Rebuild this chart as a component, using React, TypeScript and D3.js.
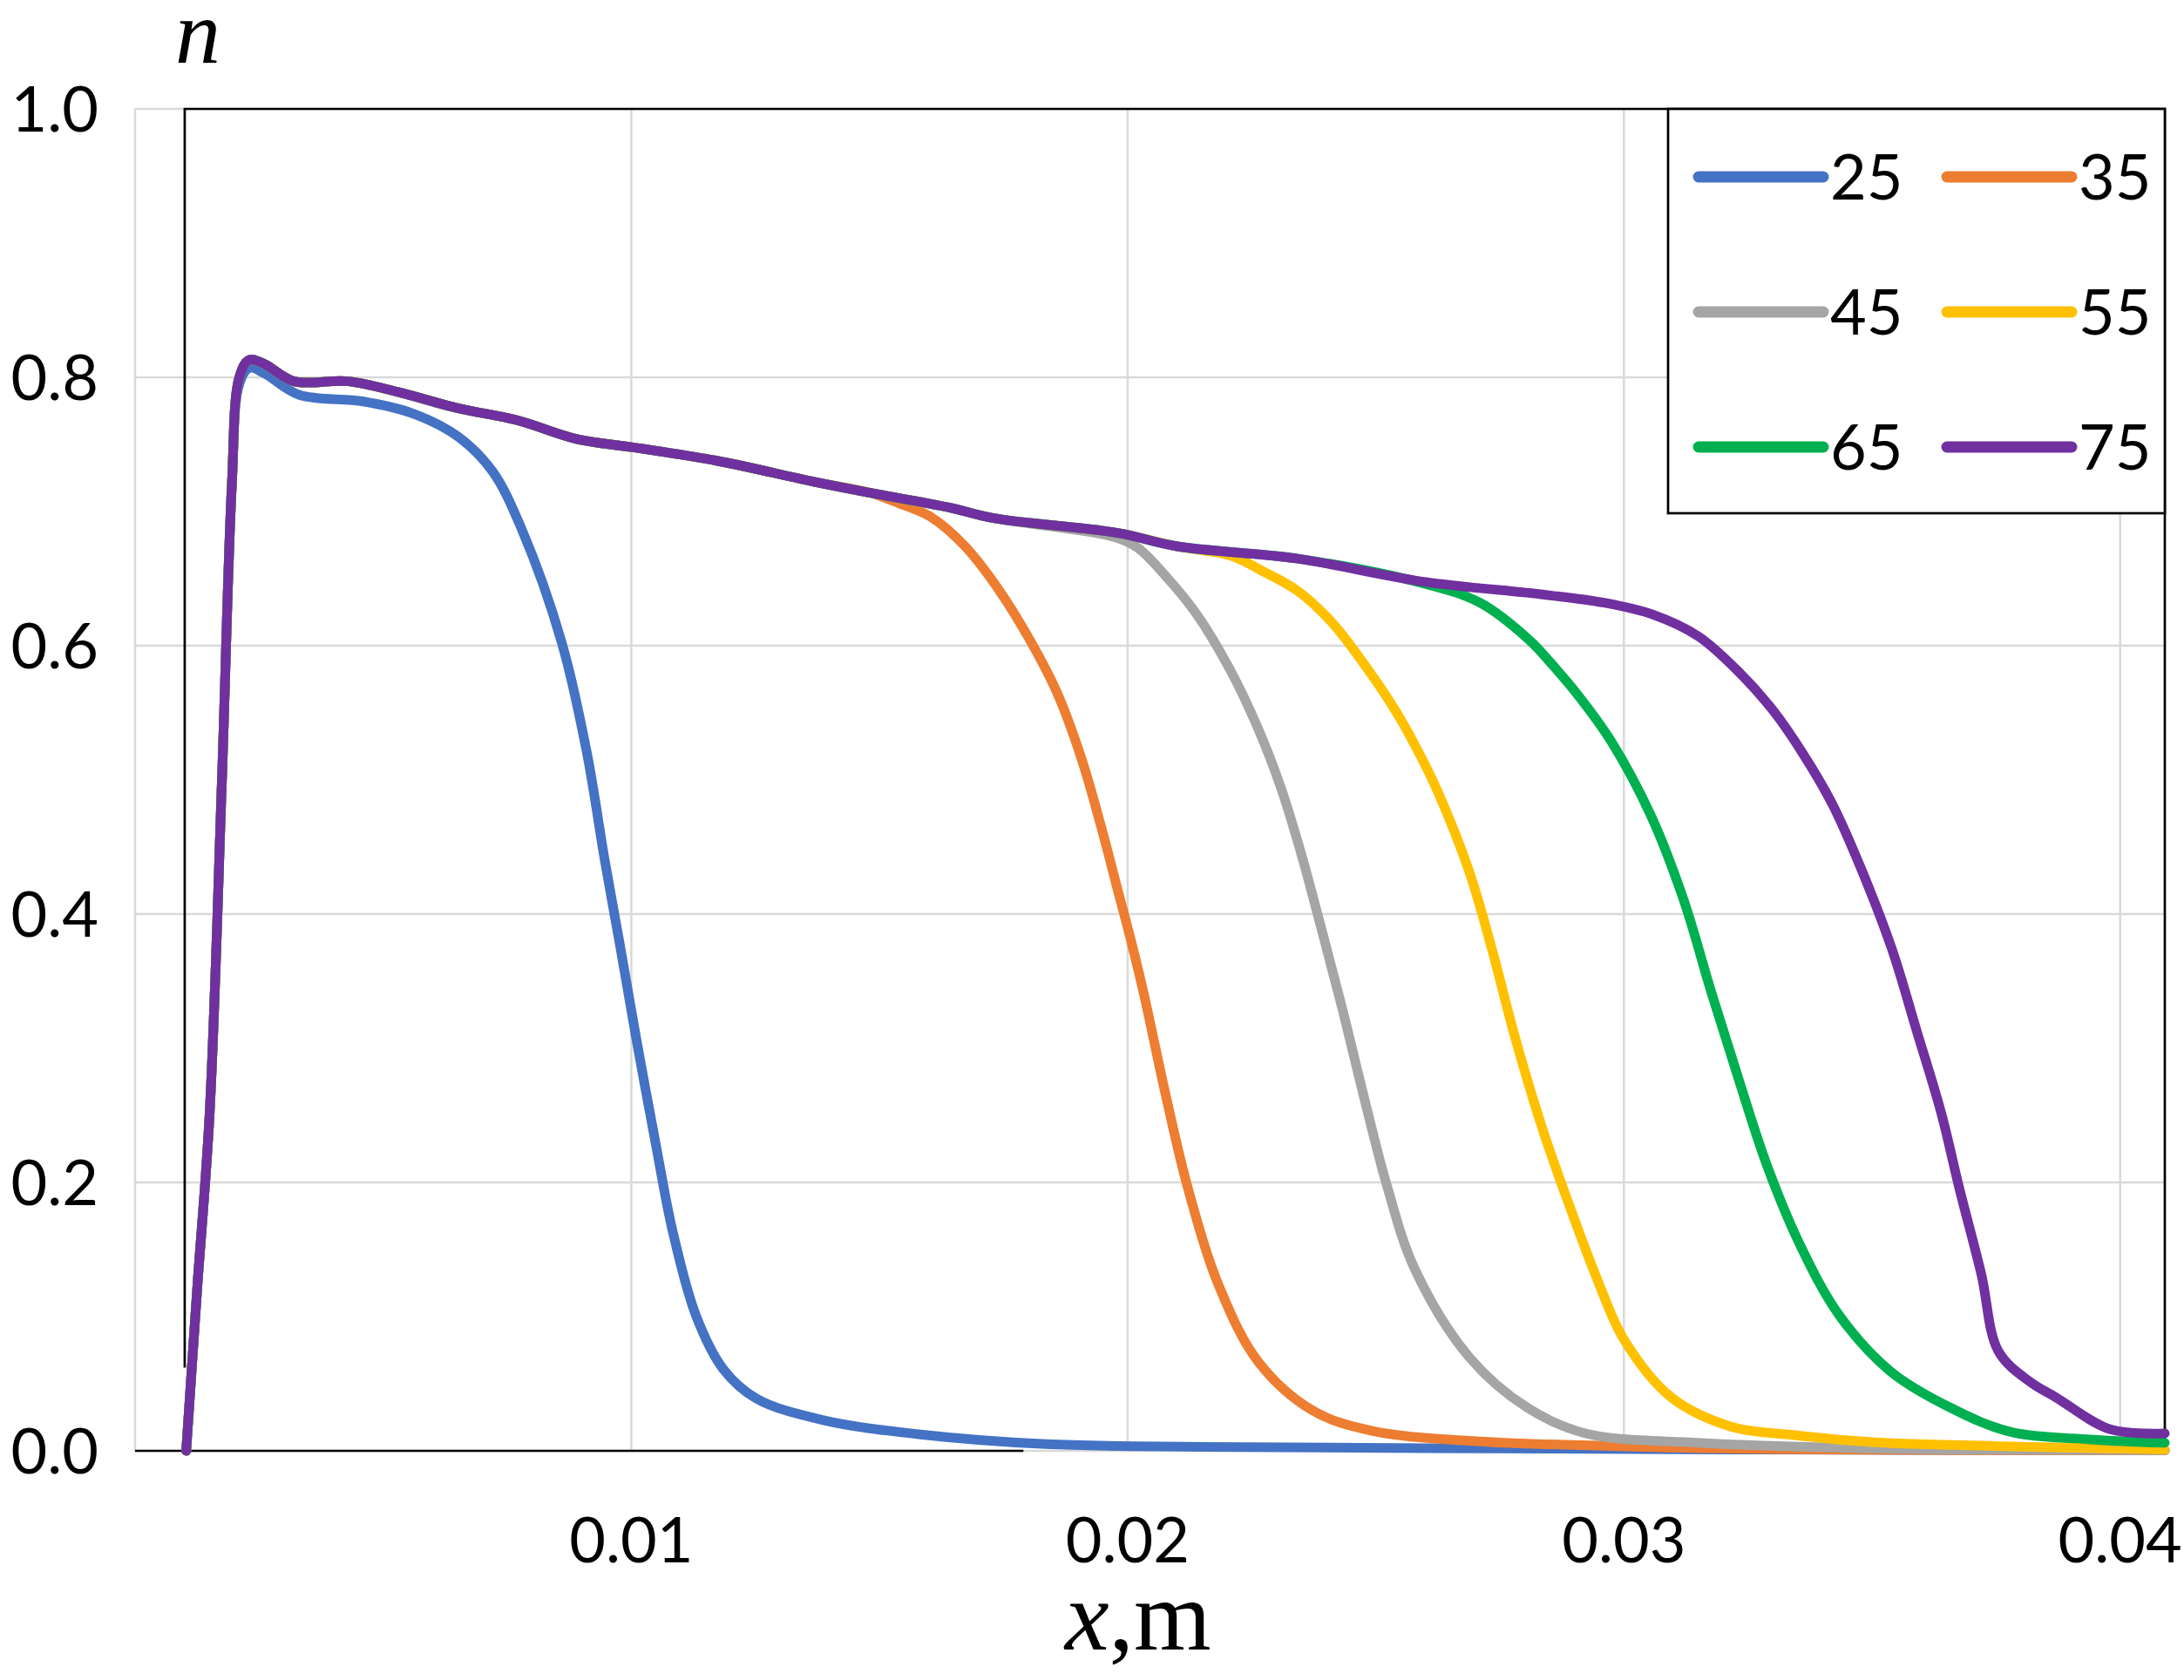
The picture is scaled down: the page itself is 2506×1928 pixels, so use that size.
import * as d3 from "d3";

type Pt = [number, number];

const seriesNames = ["25", "35", "45", "55", "65", "75"];
const seriesColors = ["#4472C4", "#ED7D31", "#A5A5A5", "#FFC000", "#00B050", "#7030A0"];

const xTicks = [0.01, 0.02, 0.03, 0.04];
const yTicks = [0, 0.2, 0.4, 0.6, 0.8, 1.0];

// top curve (75); the other fronts follow it until they break away
const plateau75: Pt[] = [
  [0.00103, 0], [0.00125, 0.12], [0.0015, 0.25], [0.00175, 0.5], [0.00195, 0.72],
  [0.0021, 0.8], [0.0023, 0.813], [0.0026, 0.81], [0.0032, 0.797], [0.0043, 0.797],
  [0.0053, 0.789], [0.0065, 0.777], [0.0077, 0.768], [0.0089, 0.754], [0.01, 0.748],
  [0.0117, 0.738], [0.0137, 0.722], [0.0148, 0.714], [0.0164, 0.703], [0.0173, 0.695],
  [0.0198, 0.684], [0.021, 0.674], [0.0234, 0.665], [0.0259, 0.648], [0.0284, 0.638],
  [0.0296, 0.632], [0.0306, 0.623], [0.0315, 0.607], [0.0323, 0.581], [0.033, 0.552],
  [0.0336, 0.52], [0.0342, 0.482], [0.0348, 0.432], [0.0354, 0.374], [0.0359, 0.313],
  [0.0364, 0.251], [0.03675, 0.197], [0.0372, 0.132], [0.03755, 0.074], [0.0382, 0.051],
  [0.0387, 0.04], [0.0398, 0.016], [0.0409, 0.013],
];

const curve25: Pt[] = [
  [0.00103, 0], [0.00125, 0.12], [0.0015, 0.25], [0.00175, 0.5], [0.00195, 0.72],
  [0.0021, 0.795], [0.0023, 0.807], [0.0026, 0.803], [0.0033, 0.787], [0.0046, 0.782],
  [0.0056, 0.773], [0.0065, 0.756], [0.0072, 0.73], [0.0078, 0.686], [0.0086, 0.602],
  [0.0091, 0.521], [0.00946, 0.441], [0.00976, 0.379], [0.0101, 0.307], [0.0105, 0.227],
  [0.01083, 0.164], [0.0113, 0.101], [0.01185, 0.061], [0.01252, 0.039], [0.01385, 0.023],
  [0.01587, 0.012], [0.01835, 0.005], [0.0215, 0.003], [0.026, 0.002], [0.032, 0.001],
  [0.0409, 0.0005],
];

const tail35: Pt[] = [
  [0.0154, 0.706], [0.01603, 0.696], [0.0167, 0.675], [0.01738, 0.643], [0.01805, 0.603],
  [0.01859, 0.564], [0.01906, 0.517], [0.01946, 0.466], [0.0198, 0.418], [0.02007, 0.38],
  [0.02033, 0.34], [0.02075, 0.268], [0.02122, 0.195], [0.02185, 0.122], [0.02264, 0.066],
  [0.02373, 0.03], [0.02491, 0.015], [0.02688, 0.0075], [0.0303, 0.003], [0.034, 0.001],
  [0.0409, 0.0003],
];

const tail45: Pt[] = [
  [0.01973, 0.681], [0.0202, 0.673], [0.02074, 0.653], [0.0214, 0.623], [0.02208, 0.581],
  [0.02262, 0.539], [0.02309, 0.494], [0.02349, 0.446], [0.02382, 0.401], [0.02416, 0.353],
  [0.02437, 0.323], [0.02484, 0.252], [0.02523, 0.197], [0.02578, 0.136], [0.02688, 0.07],
  [0.02806, 0.032], [0.02923, 0.013], [0.0315, 0.006], [0.0348, 0.002], [0.0409, 0.0005],
];

const tail55: Pt[] = [
  [0.02208, 0.667], [0.02275, 0.655], [0.02342, 0.641], [0.0241, 0.618], [0.02477, 0.586],
  [0.02544, 0.549], [0.0259, 0.518], [0.02624, 0.492], [0.02688, 0.432], [0.02734, 0.374],
  [0.0278, 0.309], [0.02835, 0.241], [0.02883, 0.19], [0.02946, 0.128], [0.03, 0.083],
  [0.03095, 0.04], [0.03216, 0.018], [0.03336, 0.012], [0.035, 0.0065], [0.0382, 0.003],
  [0.0409, 0.001],
];

const tail65: Pt[] = [
  [0.0259, 0.647], [0.0271, 0.632], [0.0281, 0.604], [0.02853, 0.587], [0.0291, 0.562],
  [0.02974, 0.529], [0.03055, 0.473], [0.0312, 0.411], [0.03176, 0.342], [0.03232, 0.276],
  [0.03288, 0.213], [0.03353, 0.155], [0.03434, 0.101], [0.03538, 0.059], [0.03659, 0.032],
  [0.0378, 0.014], [0.0394, 0.0085], [0.0409, 0.006],
];

// a front runs along the 75 curve until the first point of its own tail
const withPlateau = (tail: Pt[]): Pt[] => [
  ...plateau75.filter((p) => p[0] < tail[0][0] - 0.0003),
  ...tail,
];

const seriesData: Pt[][] = [
  curve25,
  withPlateau(tail35),
  withPlateau(tail45),
  withPlateau(tail55),
  withPlateau(tail65),
  plateau75,
];

const W = 2506;
const H = 1928;
const sans = "Lato, 'Open Sans', sans-serif";
const serif = "'Liberation Serif', 'Times New Roman', serif";

export default function App() {
  const x = d3.scaleLinear().domain([0, 0.0409]).range([155, 2484]);
  const y = d3.scaleLinear().domain([0, 1]).range([1665, 125]);
  const [x0, x1] = x.range();
  const [y0, y1] = y.range();

  const line = d3
    .line<Pt>()
    .x((d) => x(d[0]))
    .y((d) => y(d[1]))
    .curve(d3.curveCatmullRom.alpha(0.5));

  // legend sits in the top-right corner of the plot
  const legW = 570;
  const legH = 464;
  const legX = x1 - legW;
  const legY = y1;
  const rowGap = 155;

  return (
    <>
      <style>{`body{margin:0}`}</style>
      <svg width={W} height={H} style={{ display: "block", background: "#fff" }}>
        {/* gridlines */}
        <g stroke="#d9d9d9" strokeWidth={2.5}>
          {yTicks.map((t) => (
            <line key={`gy${t}`} x1={x0} x2={x1} y1={y(t)} y2={y(t)} />
          ))}
          {[0, ...xTicks].map((t) => (
            <line key={`gx${t}`} x1={x(t)} x2={x(t)} y1={y1} y2={y0} />
          ))}
        </g>

        {/* frame */}
        <g stroke="#000" strokeWidth={2.7} fill="none">
          <polyline points={`${x(0.001)},${y(0.062)} ${x(0.001)},${y1} ${x1},${y1} ${x1},${y0}`} />
          <line x1={x0} x2={x(0.0179)} y1={y0} y2={y0} />
        </g>

        {/* curves */}
        <g fill="none" strokeWidth={11} strokeLinejoin="round" strokeLinecap="round">
          {seriesData.map((d, i) => (
            <path key={seriesNames[i]} d={line(d) ?? ""} stroke={seriesColors[i]} />
          ))}
        </g>

        {/* y tick labels */}
        <g fontFamily={sans} fontSize={72} fill="#000" textAnchor="end">
          {yTicks.map((t) => (
            <text key={`ly${t}`} x={113} y={y(t) + 26}>
              {t.toFixed(1)}
            </text>
          ))}
        </g>

        {/* x tick labels */}
        <g fontFamily={sans} fontSize={72} fill="#000" textAnchor="middle">
          {xTicks.map((t) => (
            <text key={`lx${t}`} x={x(t)} y={1793}>
              {d3.format(".2f")(t)}
            </text>
          ))}
        </g>

        {/* axis titles */}
        <text x={201} y={72} fontFamily={serif} fontStyle="italic" fontSize={104} fill="#000">
          n
        </text>
        <text x={1222} y={1893} fontFamily={serif} fontSize={114} fill="#000">
          <tspan fontStyle="italic">x</tspan>,m
        </text>

        {/* legend */}
        <rect x={legX} y={legY} width={legW} height={legH} fill="#fff" stroke="#000" strokeWidth={2.7} />
        {seriesNames.map((name, i) => {
          const col = i % 2;
          const row = Math.floor(i / 2);
          const lx = legX + 35 + col * 285;
          const ly = legY + 78 + row * rowGap;
          return (
            <g key={`leg${name}`}>
              <line
                x1={lx}
                x2={lx + 143}
                y1={ly}
                y2={ly}
                stroke={seriesColors[i]}
                strokeWidth={13}
                strokeLinecap="round"
              />
              <text x={lx + 151} y={ly + 26} fontFamily={sans} fontSize={72} fill="#000">
                {name}
              </text>
            </g>
          );
        })}
      </svg>
    </>
  );
}
